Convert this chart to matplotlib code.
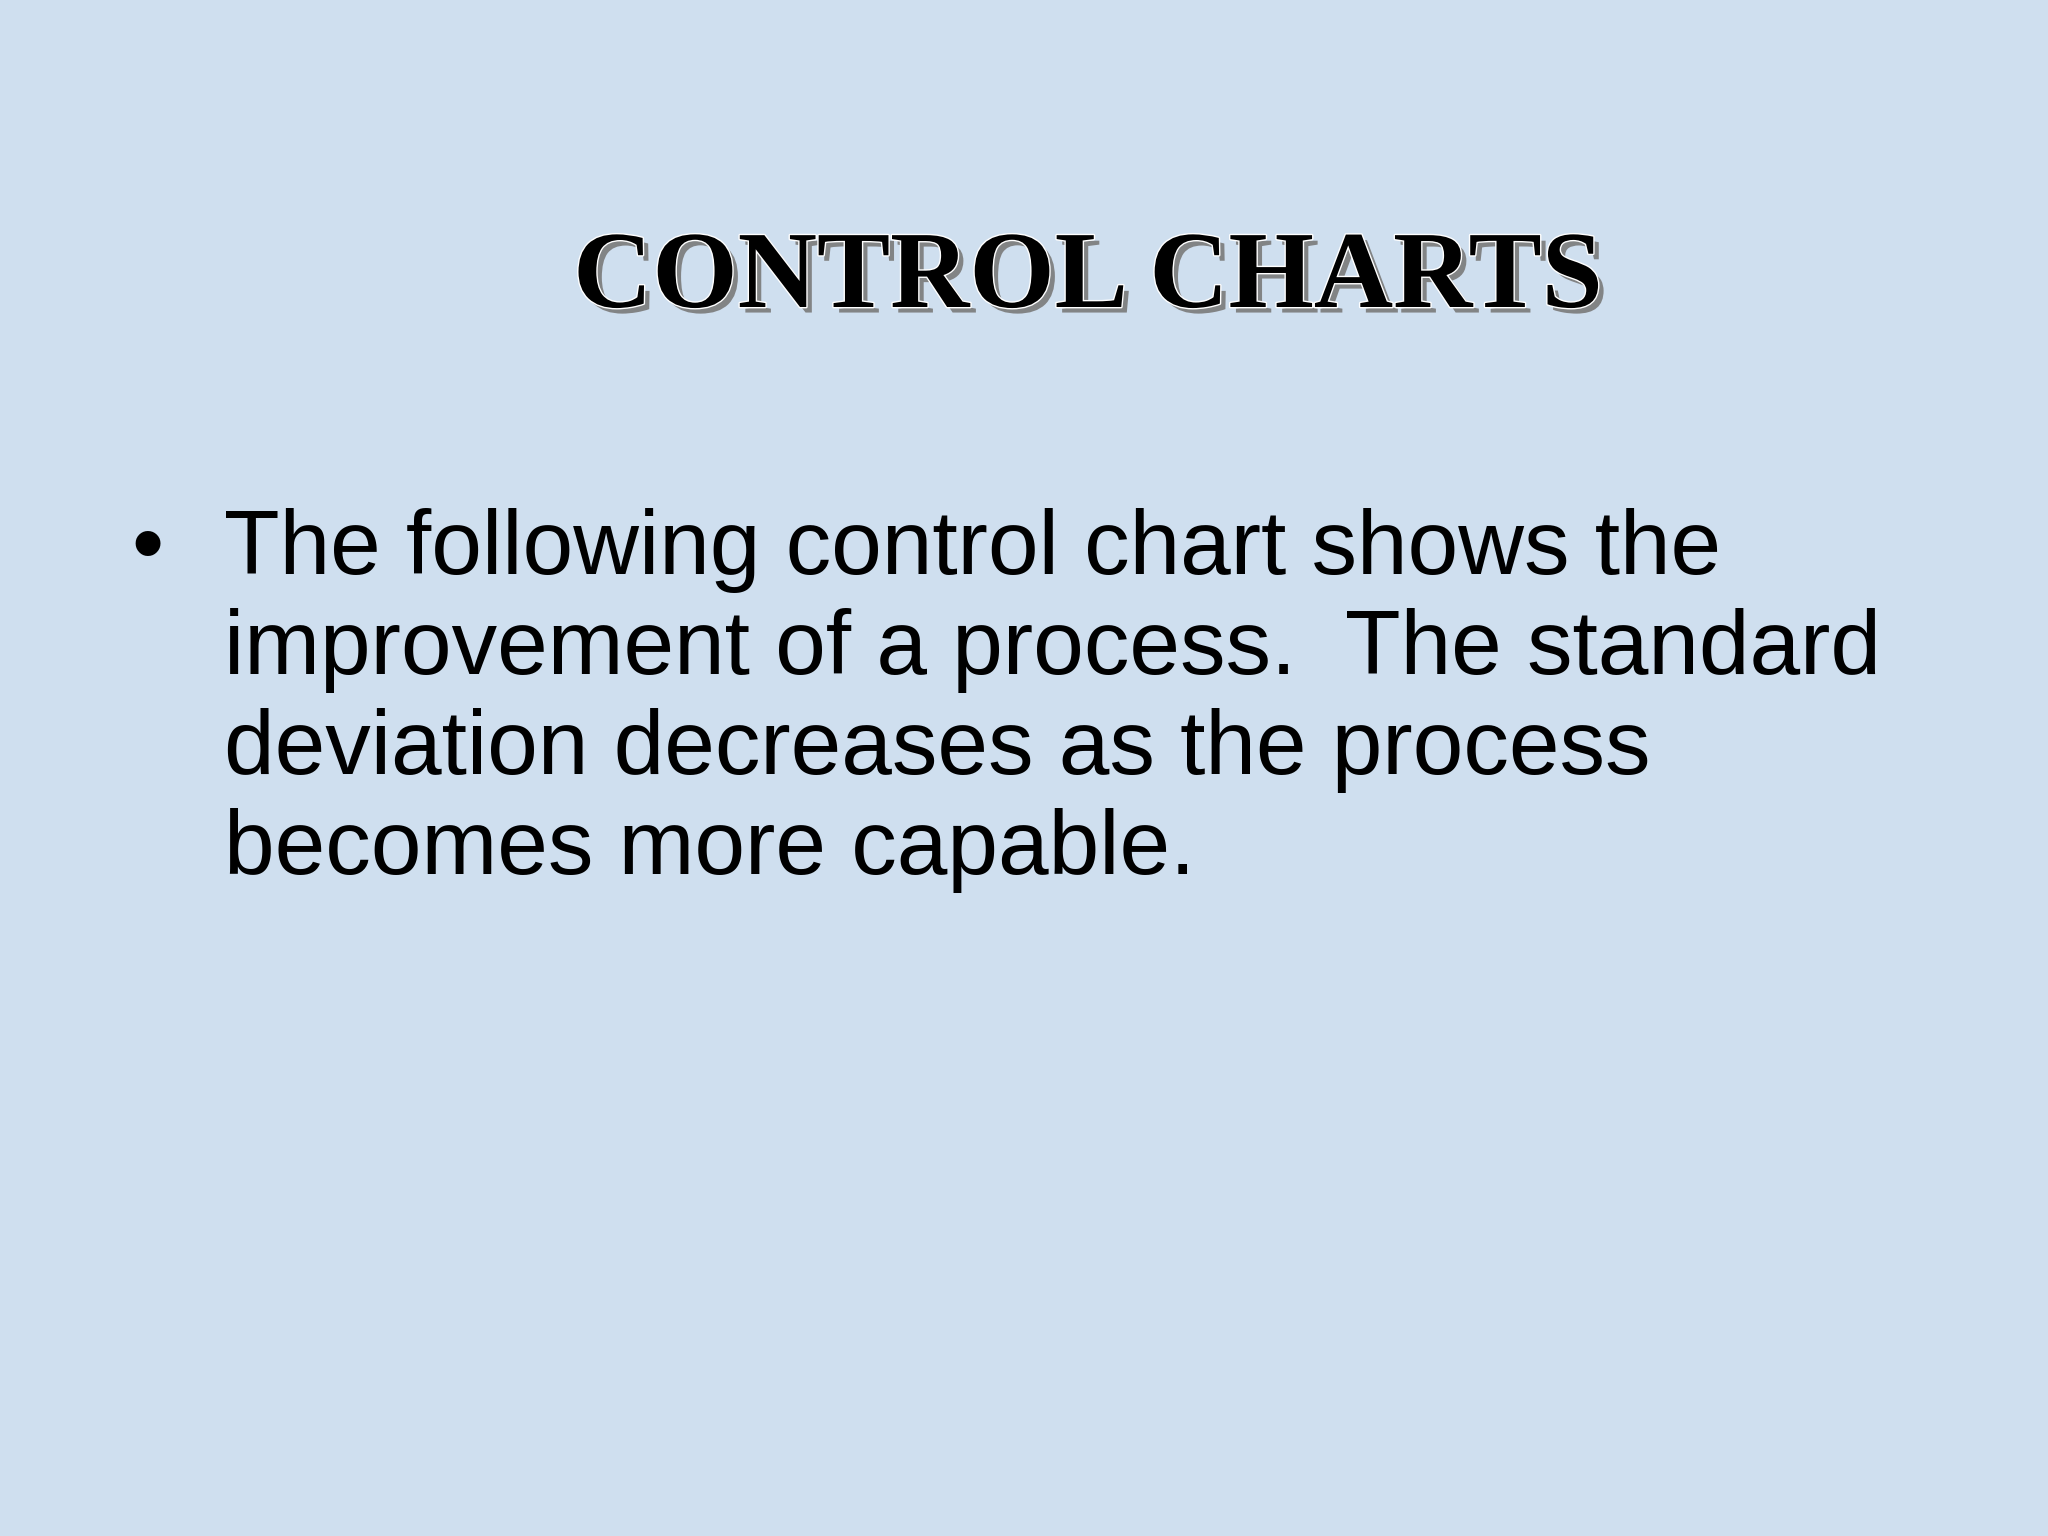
#! /usr/bin/env python3

import matplotlib
matplotlib.use('Agg')
import matplotlib.pyplot as plt
import matplotlib.patheffects as pe

title = 'CONTROL CHARTS'
bullet_lines = [
    'The following control chart shows the',
    'improvement of a process.  The standard',
    'deviation decreases as the process',
    'becomes more capable.',
]

W, H = 2048, 1536
bg_color = '#cfdfef'


def fx(px):
    return px / W


def fy(px):
    return 1 - px / H


def main():
    fig = plt.figure(figsize=(20.48, 15.36), dpi=100, facecolor=bg_color)

    # title with a grey drop shadow
    fig.text(fx(1088), fy(307), title, ha='center', va='baseline',
             fontsize=79, fontweight='bold', family='Liberation Serif',
             color='black',
             path_effects=[pe.withSimplePatchShadow(offset=(4, -4), shadow_rgbFace='#7a7a7a', alpha=0.9),
                           pe.Stroke(linewidth=2, foreground='white'),
                           pe.Normal()])

    # bullet text
    fig.text(fx(147), fy(574), '\u2022', ha='center', va='baseline',
             fontsize=66, family='Liberation Sans', color='black')
    for i, line in enumerate(bullet_lines):
        fig.text(fx(224), fy(574 + i * 100), line, ha='left', va='baseline',
                 fontsize=65.5, family='Liberation Sans', color='black')

    fig.savefig('out.png', dpi=100, facecolor=bg_color)


if __name__ == '__main__':
    main()
